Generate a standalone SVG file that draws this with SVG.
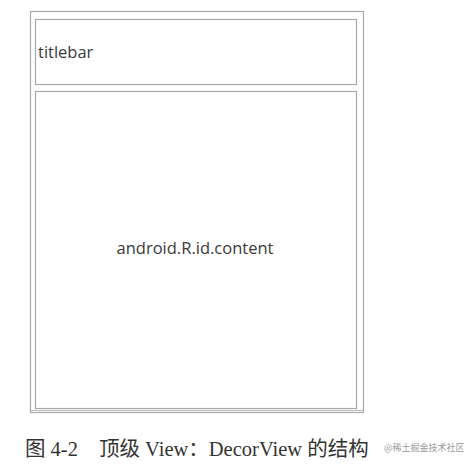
<svg xmlns="http://www.w3.org/2000/svg" width="474" height="470" viewBox="0 0 474 470">
<style>
.box{fill:#fff;stroke:#a8a8a8;stroke-width:1.2}
.lbl{font-family:"Open Sans","Noto Sans",sans-serif;font-size:16.5px;fill:#3a3a3a}
.cap{font-family:"Liberation Serif","Noto Sans CJK SC",serif;font-size:20.5px;fill:#333}
.wm{font-family:"Noto Sans CJK SC",sans-serif;font-size:9px;fill:#999}
</style>
<rect width="474" height="470" fill="#fff"/>
<g id="decorview">
<rect class="box" x="30.5" y="11.5" width="333" height="401"/>
<line x1="31" y1="410.5" x2="363" y2="410.5" stroke="#b8b8b8" stroke-width="1"/>
</g>
<g id="titlebar">
<rect class="box" x="35.5" y="19.5" width="321" height="65"/>
<text class="lbl" x="38" y="58">titlebar</text>
</g>
<g id="content">
<rect class="box" x="35.5" y="91.5" width="321" height="317" fill="#fdfdfd"/>
<text class="lbl" x="195" y="254" text-anchor="middle">android.R.id.content</text>
</g>
<g id="connectors"/>
<text class="cap" x="25" y="456">图 4-2</text>
<text class="cap" x="99" y="456">顶级 View：DecorView 的结构</text>
<text class="wm" x="384" y="451">@稀土掘金技术社区</text>
</svg>
